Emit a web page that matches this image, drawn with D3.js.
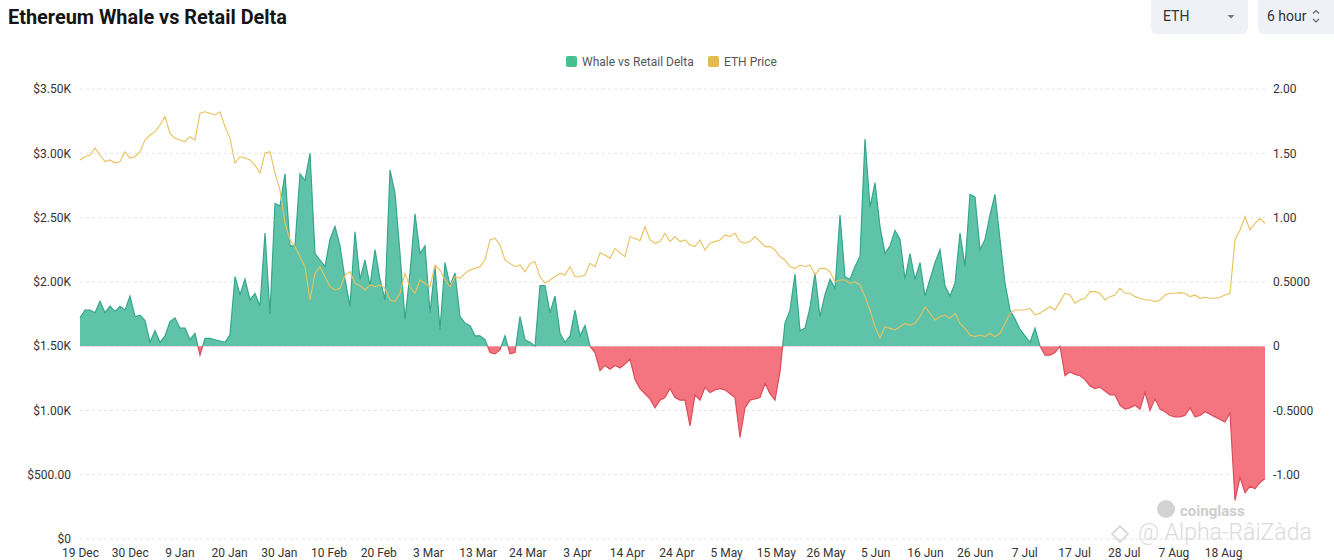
<!DOCTYPE html>
<html>
<head>
<meta charset="utf-8">
<script src="https://cdn.jsdelivr.net/npm/d3@7/dist/d3.min.js"></script>
<style>
  html, body { margin: 0; padding: 0; background: #fff; }
  svg { display: block; font-family: Roboto, "Noto Sans", sans-serif; }
</style>
</head>
<body>
<svg id="chart" width="1334" height="560"></svg>
<script>
// ---- data (one sample per step along the 6-hour category axis, resampled) ----
const dateLabels = ["19 Dec","30 Dec","9 Jan","20 Jan","30 Jan","10 Feb","20 Feb","3 Mar","13 Mar","24 Mar","3 Apr","14 Apr","24 Apr","5 May","15 May","26 May","5 Jun","16 Jun","26 Jun","7 Jul","17 Jul","28 Jul","7 Aug","18 Aug"];

const delta = [
  0.22,0.28,0.28,0.26,0.35,0.26,0.31,0.27,0.31,0.28,
  0.39,0.23,0.24,0.20,0.03,0.12,0.03,0.08,0.19,0.22,
  0.14,0.14,0.05,0.10,-0.07,0.06,0.06,0.05,0.04,0.03,
  0.09,0.54,0.40,0.52,0.36,0.41,0.31,0.88,0.25,1.11,
  1.09,1.34,0.78,0.78,1.34,1.29,1.50,0.72,0.67,0.62,
  0.83,0.93,0.78,0.52,0.31,0.89,0.52,0.67,0.47,0.75,
  0.52,0.36,1.37,1.19,0.72,0.21,0.57,1.03,0.72,0.78,
  0.26,0.62,0.13,0.65,0.47,0.57,0.23,0.18,0.16,0.08,
  0.08,0.05,-0.05,-0.06,-0.03,0.08,-0.06,-0.05,0.23,0.05,
  0.03,0.00,0.47,0.47,0.26,0.39,0.10,0.03,0.08,0.28,
  0.08,0.16,0.00,-0.05,-0.19,-0.15,-0.18,-0.15,-0.17,-0.14,
  -0.10,-0.26,-0.33,-0.37,-0.41,-0.48,-0.42,-0.40,-0.33,-0.40,
  -0.42,-0.42,-0.62,-0.38,-0.42,-0.32,-0.36,-0.34,-0.33,-0.34,
  -0.37,-0.40,-0.71,-0.48,-0.42,-0.41,-0.40,-0.29,-0.37,-0.42,
  -0.20,0.18,0.28,0.56,0.12,0.14,0.30,0.57,0.23,0.40,
  0.52,0.45,1.02,0.54,0.52,0.62,0.70,1.61,1.08,1.27,
  0.93,0.72,0.78,0.90,0.83,0.52,0.72,0.52,0.65,0.39,
  0.52,0.65,0.75,0.47,0.39,0.49,0.88,0.62,1.18,1.16,
  0.75,0.83,1.02,1.18,0.83,0.49,0.28,0.21,0.13,0.08,
  0.03,0.14,0.00,-0.07,-0.07,-0.05,0.00,-0.23,-0.20,-0.22,
  -0.23,-0.26,-0.31,-0.33,-0.32,-0.35,-0.38,-0.38,-0.46,-0.49,
  -0.48,-0.46,-0.49,-0.36,-0.50,-0.41,-0.49,-0.51,-0.54,-0.55,
  -0.55,-0.54,-0.48,-0.55,-0.54,-0.51,-0.53,-0.55,-0.57,-0.59,
  -0.52,-1.20,-1.02,-1.14,-1.09,-1.11,-1.06,-1.03
];

const price = [
  2948,2973,2987,3041,2987,2935,2948,2924,2935,3012,
  2963,2973,3012,3103,3142,3168,3220,3285,3155,3116,
  3103,3090,3129,3103,3311,3323,3311,3298,3323,3207,
  3116,2924,2973,2963,2948,2909,2846,3002,3012,2846,
  2714,2458,2326,2274,2196,2118,1859,2066,2118,2040,
  1962,1937,1950,2050,2079,1989,1970,1937,1976,1962,
  1976,1950,1859,1846,1911,2066,1962,1911,2014,1989,
  1962,2131,2092,2014,1962,2040,2027,2066,2092,2105,
  2118,2170,2326,2339,2287,2170,2144,2118,2131,2079,
  2144,2157,2040,1989,2014,2040,2066,2053,2118,2040,
  2040,2053,2144,2118,2224,2209,2183,2261,2224,2196,
  2352,2339,2320,2429,2326,2300,2313,2378,2313,2352,
  2313,2326,2287,2274,2326,2248,2300,2313,2326,2365,
  2352,2378,2313,2300,2313,2352,2313,2274,2274,2248,
  2196,2170,2118,2105,2131,2118,2131,2053,2105,2105,
  2079,2001,2014,2014,1989,2001,1976,1885,1781,1651,
  1564,1651,1638,1626,1651,1677,1664,1677,1729,1807,
  1755,1703,1729,1742,1716,1755,1677,1638,1587,1574,
  1587,1574,1600,1574,1600,1677,1755,1781,1781,1781,
  1794,1742,1755,1781,1807,1781,1846,1911,1898,1833,
  1859,1872,1924,1924,1911,1859,1885,1898,1950,1911,
  1911,1885,1872,1859,1859,1846,1859,1898,1911,1911,
  1916,1911,1885,1898,1872,1880,1872,1872,1880,1898,
  1911,2326,2404,2507,2404,2455,2494,2455
];

const leftTicks = [0,500,1000,1500,2000,2500,3000,3500];
const leftLabels = ["$0","$500.00","$1.00K","$1.50K","$2.00K","$2.50K","$3.00K","$3.50K"];
const rightTicks = [-1,-0.5,0,0.5,1,1.5,2];
const rightLabels = ["-1.00","-0.5000","0","0.5000","1.00","1.50","2.00"];
const seriesNames = ["Whale vs Retail Delta","ETH Price"];

// ---- layout ----
const L = 80, R = 1265, T = 89, B = 539;
const tickEvery = 9.94; // samples between date labels
const svg = d3.select("#chart");

const x = d3.scaleLinear().domain([0, delta.length - 1]).range([L, R]);
const yL = d3.scaleLinear().domain([0, 3500]).range([B, T]);
const yR = d3.scaleLinear().domain([-1.5, 2.0]).range([B, T]);

// title
svg.append("text").attr("x", 8).attr("y", 24)
  .attr("font-size", 19.5).attr("font-weight", 700).attr("fill", "#151515")
  .attr("textLength", 279).attr("lengthAdjust", "spacingAndGlyphs")
  .text("Ethereum Whale vs Retail Delta");

// dropdowns
const dd = svg.append("g");
dd.append("rect").attr("x",1151).attr("y",-6).attr("width",97).attr("height",40).attr("rx",6).attr("fill","#eef1f5");
dd.append("text").attr("x",1163).attr("y",21).attr("font-size",14).attr("fill","#333").text("ETH");
dd.append("path").attr("d","M1227.5,15 L1234.5,15 L1231,18.5 Z").attr("fill","#777");
dd.append("rect").attr("x",1258).attr("y",-6).attr("width",90).attr("height",40).attr("rx",6).attr("fill","#eef1f5");
dd.append("text").attr("x",1267).attr("y",21).attr("font-size",14).attr("fill","#333").text("6 hour");
dd.append("path").attr("d","M1313,13.5 L1316,10.5 L1319,13.5 M1313,19 L1316,22 L1319,19").attr("fill","none").attr("stroke","#666").attr("stroke-width",1.2);

// legend
const legend = svg.append("g");
legend.append("rect").attr("x",566).attr("y",56).attr("width",11).attr("height",11).attr("rx",2).attr("fill","#45c08e");
legend.append("text").attr("x",582).attr("y",66).attr("font-size",12).attr("fill","#555").text(seriesNames[0]);
legend.append("rect").attr("x",708).attr("y",56).attr("width",11).attr("height",11).attr("rx",2).attr("fill","#e5b94e");
legend.append("text").attr("x",724).attr("y",66).attr("font-size",12).attr("fill","#555").text(seriesNames[1]);

// grid
svg.append("g").selectAll("line").data(leftTicks).join("line")
  .attr("x1", L).attr("x2", R)
  .attr("y1", d => yL(d)).attr("y2", d => yL(d))
  .attr("stroke", "#e4e4e4").attr("stroke-dasharray", "3,3");

// axes
const axL = svg.append("g").attr("transform", `translate(${L},0)`)
  .call(d3.axisLeft(yL).tickValues(leftTicks).tickFormat((d,i) => leftLabels[i]).tickSize(0).tickPadding(9));
const axR = svg.append("g").attr("transform", `translate(${R},0)`)
  .call(d3.axisRight(yR).tickValues(rightTicks).tickFormat((d,i) => rightLabels[i]).tickSize(0).tickPadding(8));
const xTicks = dateLabels.map((d,i) => i * tickEvery);
const axX = svg.append("g").attr("transform", `translate(0,${B})`)
  .call(d3.axisBottom(x).tickValues(xTicks).tickFormat((d,i) => dateLabels[i]).tickSize(0).tickPadding(9));
[axL, axR, axX].forEach(a => {
  a.select(".domain").remove();
  a.selectAll("text").attr("font-size", 12).attr("fill", "#333").attr("font-family", "Roboto, sans-serif");
});

// clip paths for positive / negative
const defs = svg.append("defs");
defs.append("clipPath").attr("id","pos").append("rect")
  .attr("x", L - 2).attr("y", 0).attr("width", R - L + 4).attr("height", yR(0));
defs.append("clipPath").attr("id","neg").append("rect")
  .attr("x", L - 2).attr("y", yR(0)).attr("width", R - L + 4).attr("height", 560 - yR(0));

const area = d3.area().x((d,i) => x(i)).y0(yR(0)).y1(d => yR(d));
const line = d3.line().x((d,i) => x(i)).y(d => yR(d));

const g = svg.append("g");
g.append("path").datum(delta).attr("clip-path","url(#pos)").attr("d", area).attr("fill","#5fc3aa");
g.append("path").datum(delta).attr("clip-path","url(#pos)").attr("d", line).attr("fill","none").attr("stroke","#36a68c").attr("stroke-width",1.2);
g.append("path").datum(delta).attr("clip-path","url(#neg)").attr("d", area).attr("fill","#f4747f");
g.append("path").datum(delta).attr("clip-path","url(#neg)").attr("d", line).attr("fill","none").attr("stroke","#dc4d5c").attr("stroke-width",1.2);

// price line
const pline = d3.line().x((d,i) => x(i)).y(d => yL(d));
svg.append("path").datum(price).attr("d", pline).attr("fill","none").attr("stroke","#e8c15e").attr("stroke-width",1.1);

// watermark
const wm = svg.append("g").attr("opacity", 0.75);
wm.append("circle").attr("cx",1166).attr("cy",509).attr("r",9).attr("fill","#c4c4c4");
wm.append("text").attr("x",1180).attr("y",516).attr("font-size",15).attr("font-weight",700).attr("fill","#bdbdbd").text("coinglass");
wm.append("path").attr("d","M1120,526 L1128,534 L1120,542 L1112,534 Z").attr("fill","none").attr("stroke","#d0d0d0").attr("stroke-width",2);
wm.append("text").attr("x",1138).attr("y",540).attr("font-size",23).attr("font-weight",300).attr("fill","#cfcfcf").text("@ Alpha-RâiZàda");
</script>
</body>
</html>
